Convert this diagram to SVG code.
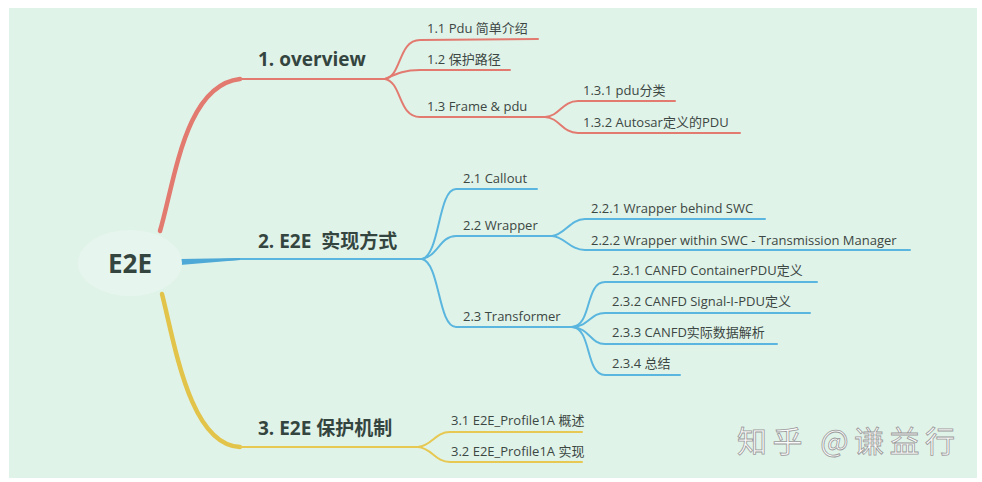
<svg xmlns="http://www.w3.org/2000/svg" width="982" height="482" viewBox="0 0 982 482">
<style>
.bg{fill:#e0f3e9}
.t1{font-family:"Open Sans","Noto Sans CJK SC",sans-serif;font-weight:bold;font-size:19px;fill:#34453f}
.t2{font-family:"Open Sans","Noto Sans CJK SC",sans-serif;font-size:13px;fill:#3c4743}
.r{fill:none;stroke:#e27a70;stroke-width:2;stroke-linecap:round}
.b{fill:none;stroke:#5ab6de;stroke-width:2;stroke-linecap:round}
.y{fill:none;stroke:#e6c852;stroke-width:2;stroke-linecap:round}
.wm{font-family:"Noto Sans CJK SC",sans-serif;font-size:30px;fill:#fafafa;stroke:#9a9a9a;stroke-width:0.8}
</style>
<rect x="0" y="0" width="982" height="482" fill="#ffffff"/>
<rect class="bg" x="9" y="8" width="968" height="470"/>
<g id="connectors">
<path d="M160,231 C175,180 185,85 240,79 L385,79" class="r"/>
<path d="M160,231 C175,180 185,85 240,79" fill="none" stroke="#e27a70" stroke-width="4.5" stroke-linecap="round"/>
<path d="M385,79 C402,76 398,40 420,40 L538,39" class="r"/>
<path d="M385,79 C398,73 405,70 420,70 L510,70" class="r"/>
<path d="M385,79 C402,82 398,117 420,117 L545,117" class="r"/>
<path d="M545,117 C560,116 562,101 578,101 L675,101" class="r"/>
<path d="M545,117 C560,118 562,133 578,133 L740,133" class="r"/>
<path d="M180,262 L240,259 L422,259" class="b"/>
<path d="M180,259 L240,258 L240,260 L180,265 Z" fill="#4fa9d6"/>
<path d="M422,259 C440,255 438,189 456,189 L537,189" class="b"/>
<path d="M422,259 C438,256 440,236 456,236 L552,236" class="b"/>
<path d="M422,259 C440,263 438,327 456,327 L572,327" class="b"/>
<path d="M552,236 C565,235 570,219 585,219 L765,219" class="b"/>
<path d="M552,236 C565,237 570,250 585,250 L910,250" class="b"/>
<path d="M572,327 C592,326 585,282 605,282 L817,282" class="b"/>
<path d="M572,327 C590,326 590,313 605,313 L810,313" class="b"/>
<path d="M572,327 C590,328 590,344 605,344 L777,344" class="b"/>
<path d="M572,327 C592,328 585,375 605,375 L680,375" class="b"/>
<path d="M162,294 C175,345 190,445 240,447" fill="none" stroke="#e3c44a" stroke-width="4.5" stroke-linecap="round"/>
<path d="M240,447 L418,447" class="y"/>
<path d="M418,447 C432,446 435,432 450,432 L582,432" class="y"/>
<path d="M418,447 C432,448 435,462 450,462 L582,462" class="y"/>
</g>
<g id="root">
<ellipse cx="130" cy="263" rx="52" ry="33" fill="#e6f6ee"/>
<text x="130" y="273" text-anchor="middle" font-family="'Open Sans',sans-serif" font-weight="bold" font-size="26" fill="#34453f">E2E</text>
</g>
<g id="n1"><text class="t1" x="258" y="66">1. overview</text></g>
<g id="n11"><text class="t2" x="427" y="33">1.1 Pdu 简单介绍</text></g>
<g id="n12"><text class="t2" x="427" y="64">1.2 保护路径</text></g>
<g id="n13"><text class="t2" x="427" y="111">1.3 Frame &amp; pdu</text></g>
<g id="n131"><text class="t2" x="583" y="95">1.3.1 pdu分类</text></g>
<g id="n132"><text class="t2" x="583" y="127">1.3.2 Autosar定义的PDU</text></g>
<g id="n2"><text class="t1" x="258" y="248" xml:space="preserve">2. E2E  实现方式</text></g>
<g id="n21"><text class="t2" x="463" y="183">2.1 Callout</text></g>
<g id="n22"><text class="t2" x="463" y="230">2.2 Wrapper</text></g>
<g id="n221"><text class="t2" x="591" y="213">2.2.1 Wrapper behind SWC</text></g>
<g id="n222"><text class="t2" x="591" y="245">2.2.2 Wrapper within SWC - Transmission Manager</text></g>
<g id="n23"><text class="t2" x="463" y="321">2.3 Transformer</text></g>
<g id="n231"><text class="t2" x="612" y="275">2.3.1 CANFD ContainerPDU定义</text></g>
<g id="n232"><text class="t2" x="612" y="306">2.3.2 CANFD Signal-I-PDU定义</text></g>
<g id="n233"><text class="t2" x="612" y="337">2.3.3 CANFD实际数据解析</text></g>
<g id="n234"><text class="t2" x="612" y="368">2.3.4 总结</text></g>
<g id="n3"><text class="t1" x="258" y="435">3. E2E 保护机制</text></g>
<g id="n31"><text class="t2" x="451" y="425">3.1 E2E_Profile1A 概述</text></g>
<g id="n32"><text class="t2" x="451" y="456">3.2 E2E_Profile1A 实现</text></g>
<text class="wm" x="737" y="452" textLength="218" lengthAdjust="spacing">知乎 @谦益行</text>
</svg>
